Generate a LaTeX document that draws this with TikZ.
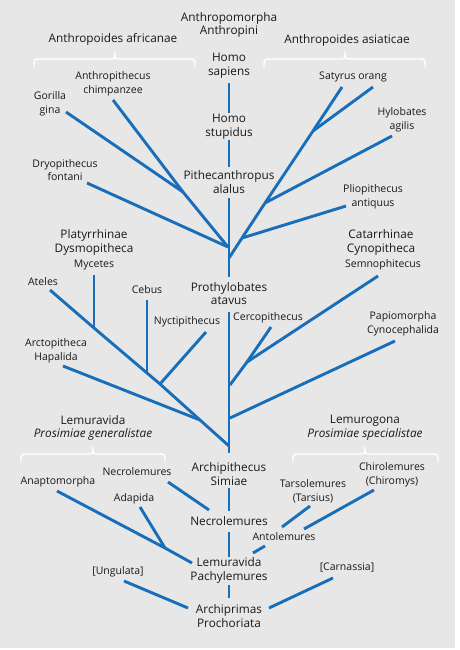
\documentclass[tikz,border=0pt]{standalone}
\usepackage{fontspec}
\setmainfont{Open Sans}
\definecolor{bg}{RGB}{231,231,231}
\definecolor{br}{RGB}{24,110,184}
\definecolor{tx}{RGB}{25,25,25}
\newcommand\mycurly[4]{% xL, xR, xm, yb
  \draw[curly] (#1,#4) .. controls (#1,#4-8) .. (#1+6,#4-8) -- (#3-7,#4-8)
    .. controls (#3,#4-8) .. (#3,#4-15) .. controls (#3,#4-8) .. (#3+7,#4-8)
    -- (#2-6,#4-8) .. controls (#2,#4-8) .. (#2,#4);}
\begin{document}
\begin{tikzpicture}[x=1pt,y=-1pt,
  big/.style={font=\fontsize{11.8}{13.8}\selectfont, text=tx, align=center, inner sep=0pt},
  small/.style={font=\fontsize{10.5}{13.8}\selectfont, text=tx, align=center, inner sep=0pt},
  branch/.style={draw=br, line width=2.9pt, line join=round},
  curly/.style={draw=white, line width=1.4pt, line cap=round, line join=round}]
\useasboundingbox (0,0) rectangle (460,650);
\fill[bg] (0,0) rectangle (455,648);

% ---------- main labels ----------
\node[big] (title) at (229,25) {Anthropomorpha\\Anthropini};
\node[big] (afr) at (113,39) {Anthropoides africanae};
\node[big] (asi) at (347,40) {Anthropoides asiaticae};
\node[big] (sap) at (229,66) {Homo\\sapiens};
\node[big] (stu) at (229,126.5) {Homo\\stupidus};
\node[big] (pit) at (229,182) {Pithecanthropus\\alalus};
\node[big] (pro) at (229,293.5) {Prothylobates\\atavus};
\node[big] (pla) at (94,242.5) {Platyrrhinae\\Dysmopitheca};
\node[big] (cat) at (381,242.5) {Catarrhinae\\Cynopitheca};
\node[big] (arc) at (229,474) {Archipithecus\\Simiae};
\node[big] (nec) at (229,521) {Necrolemures};
\node[big] (pac) at (229,570.5) {Lemuravida\\Pachylemures};
\node[big] (prc) at (229,616) {Archiprimas\\Prochoriata};
\node[big] (gen) at (93,428) {Lemuravida\\\textit{Prosimiae generalistae}};
\node[big] (spe) at (365,428) {Lemurogona\\\textit{Prosimiae specialistae}};

% ---------- small labels ----------
\node[small] (chi) at (113,83.5) {Anthropithecus\\chimpanzee};
\node[small] (gor) at (50,104) {Gorilla\\gina};
\node[small] (dry) at (65,170) {Dryopithecus\\fontani};
\node[small] (sat) at (353,77) {Satyrus orang};
\node[small] (hyl) at (402,120) {Hylobates\\agilis};
\node[small] (pli) at (373,196.5) {Pliopithecus\\antiquus};
\node[small] (myc) at (94,265) {Mycetes};
\node[small] (ate) at (43,282) {Ateles};
\node[small] (ceb) at (147,290) {Cebus};
\node[small] (nyc) at (187,322) {Nyctipithecus};
\node[small] (hap) at (56,350.5) {Arctopitheca\\Hapalida};
\node[small] (sem) at (383,265) {Semnophitecus};
\node[small] (cer) at (268,318) {Cercopithecus};
\node[small] (pap) at (403,323.5) {Papiomorpha\\Cynocephalida};
\node[small] (ana) at (58,482) {Anaptomorpha};
\node[small] (nes) at (137,472) {Necrolemures};
\node[small] (ada) at (134,499) {Adapida};
\node[small] (ung) at (118,572) {[Ungulata]};
\node[small] (chr) at (392,475) {Chirolemures\\(Chiromys)};
\node[small] (tar) at (313,491) {Tarsolemures\\(Tarsius)};
\node[small] (ant) at (284,537) {Antolemures};
\node[small] (car) at (347,567) {[Carnassia]};

% ---------- braces ----------
\mycurly{34}{195}{115}{67}
\mycurly{264}{425}{345}{67}
\mycurly{21}{165}{93}{462}
\mycurly{293}{438}{365}{462}

% ---------- coordinates ----------
\coordinate (t1a) at (229,83);  \coordinate (t1b) at (229,113);
\coordinate (t2a) at (229,140); \coordinate (t2b) at (229,167);
\coordinate (t3a) at (229,198); \coordinate (t3b) at (229,277);
\coordinate (t4a) at (229,312); \coordinate (t4b) at (229,453);
\coordinate (t5a) at (229,488); \coordinate (t5b) at (229,511);
\coordinate (t6a) at (229,532); \coordinate (t6b) at (229,557);
\coordinate (t7a) at (229,585); \coordinate (t7b) at (229,598);

\coordinate (chiE) at (113,100); \coordinate (gorE) at (66,112);
\coordinate (dryE) at (87,183);  \coordinate (jg) at (183,192);
\coordinate (jl) at (228,247);

\coordinate (satE1) at (342,87); \coordinate (satE2) at (373,87);
\coordinate (js) at (313,131);  \coordinate (hylE) at (392,136);
\coordinate (jh) at (265,203);  \coordinate (pliE) at (346,206);
\coordinate (jp) at (242,238);  \coordinate (jr) at (229,258);

\coordinate (ateE) at (50,290); \coordinate (mycE) at (94,275);
\coordinate (jm) at (94,328);   \coordinate (cebE) at (147,300);
\coordinate (jc) at (147,373);  \coordinate (nycE) at (206,332);
\coordinate (jn) at (160,384);  \coordinate (hapE) at (63,366);
\coordinate (ja) at (200,420);  \coordinate (jt) at (229,446);

\coordinate (semE) at (378,276); \coordinate (cerE) at (271,327);
\coordinate (jce) at (247,362);  \coordinate (jt3) at (230,385);
\coordinate (papE) at (395,341); \coordinate (jt4) at (230,418);

\coordinate (anaE) at (57,491);  \coordinate (adaE) at (140,507);
\coordinate (jad) at (165,548);  \coordinate (anaF) at (192,563);
\coordinate (nesE) at (168,482); \coordinate (nesF) at (209,510);
\coordinate (ungE) at (124,581); \coordinate (ungF) at (188,608);
\coordinate (tarE) at (310,506); \coordinate (tarF) at (282,527);
\coordinate (chrE) at (374,490); \coordinate (chrF) at (304,529);
\coordinate (antE) at (265,546); \coordinate (antF) at (253,553);
\coordinate (carE) at (333,578); \coordinate (carF) at (269,608);

% ---------- trunk ----------
\draw[branch] (t1a) -- (t1b);
\draw[branch] (t2a) -- (t2b);
\draw[branch] (t3a) -- (t3b);
\draw[branch] (t4a) -- (t4b);
\draw[branch] (t5a) -- (t5b);
\draw[branch] (t6a) -- (t6b);
\draw[branch] (t7a) -- (t7b);

% ---------- branches ----------
\draw[branch] (chiE) -- (jg) -- (jl);
\draw[branch] (gorE) -- (jg);
\draw[branch] (dryE) -- (jl);

\draw[branch] (satE1) -- (js) -- (jh) -- (jp) -- (jr);
\draw[branch] (satE2) -- (js);
\draw[branch] (hylE) -- (jh);
\draw[branch] (pliE) -- (jp);

\draw[branch] (ateE) -- (jm) -- (jc) -- (jn) -- (ja) -- (jt);
\draw[branch] (mycE) -- (jm);
\draw[branch] (cebE) -- (jc);
\draw[branch] (nycE) -- (jn);
\draw[branch] (hapE) -- (ja);

\draw[branch] (semE) -- (jce) -- (jt3);
\draw[branch] (cerE) -- (jce);
\draw[branch] (papE) -- (jt4);

\draw[branch] (anaE) -- (jad) -- (anaF);
\draw[branch] (adaE) -- (jad);
\draw[branch] (nesE) -- (nesF);
\draw[branch] (ungE) -- (ungF);
\draw[branch] (tarE) -- (tarF);
\draw[branch] (chrE) -- (chrF);
\draw[branch] (antE) -- (antF);
\draw[branch] (carE) -- (carF);
\end{tikzpicture}
\end{document}
